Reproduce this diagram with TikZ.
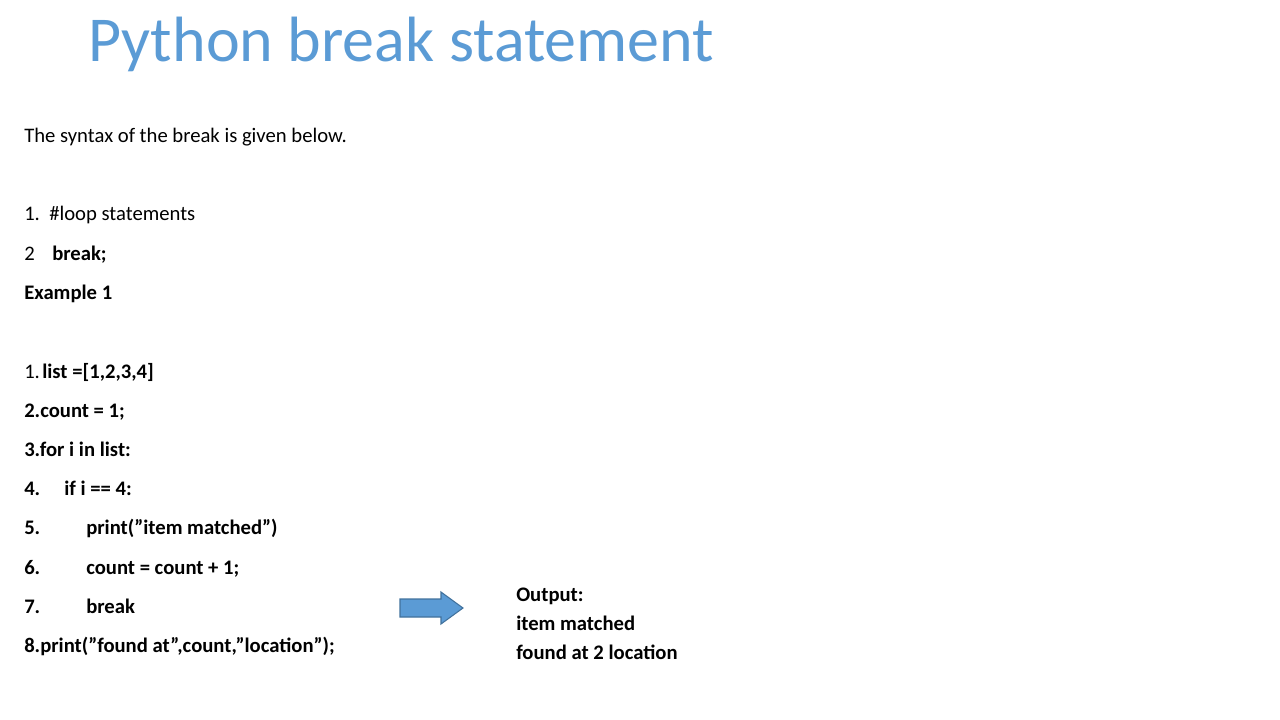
\documentclass[tikz,border=0pt]{standalone}
\usepackage{fontspec}
\setmainfont{Carlito}
\definecolor{titleblue}{HTML}{5B9BD5}
\definecolor{arrowfill}{HTML}{5B9BD5}
\definecolor{arrowline}{HTML}{41719C}
\begin{document}
\begin{tikzpicture}[x=0.75pt,y=-0.75pt,
  txt/.style={anchor=base west,inner sep=0pt,font=\fontsize{15.5}{18}\selectfont},
  btxt/.style={txt,font=\fontsize{15.5}{18}\selectfont\bfseries}]
\useasboundingbox (0,0) rectangle (1280,720);
\node[anchor=base west,inner sep=0pt,text=titleblue,font=\fontsize{48}{52}\selectfont] (title) at (88,62) {Python break statement};
\node[txt] (intro) at (24,143) {The syntax of the break is given below.};
\node[txt] (s1) at (24,221) {1.\ \ \#loop statements};
\node[txt] (s2n) at (24,260) {2};
\node[btxt] (s2) at (52,260) {break;};
\node[btxt] (ex) at (24,299) {Example 1};
\node[txt] (c1n) at (24,378) {1.};
\node[btxt] (c1) at (42,378) {list =[1,2,3,4]};
\node[btxt] (c2) at (24,417) {2.count = 1;};
\node[btxt] (c3) at (24,456) {3.for i in list:};
\node[btxt] (c4n) at (24,495) {4.};
\node[btxt] (c4) at (64,495) {if i == 4:};
\node[btxt] (c5n) at (24,534) {5.};
\node[btxt] (c5) at (86,534) {print("item matched")};
\node[btxt] (c6n) at (24,574) {6.};
\node[btxt] (c6) at (86,574) {count = count + 1;};
\node[btxt] (c7n) at (24,613) {7.};
\node[btxt] (c7) at (86,613) {break};
\node[btxt] (c8) at (24,652) {8.print("found at",count,"location");};
\draw[fill=arrowfill,draw=arrowline,line width=0.8pt]
  (400,599) -- (441,599) -- (441,592) -- (463,608) -- (441,624) -- (441,617) -- (400,617) -- cycle;
\node[btxt] (o1) at (516,601) {Output:};
\node[btxt] (o2) at (516,630) {item matched};
\node[btxt] (o3) at (516,659) {found at 2 location};
\end{tikzpicture}
\end{document}
